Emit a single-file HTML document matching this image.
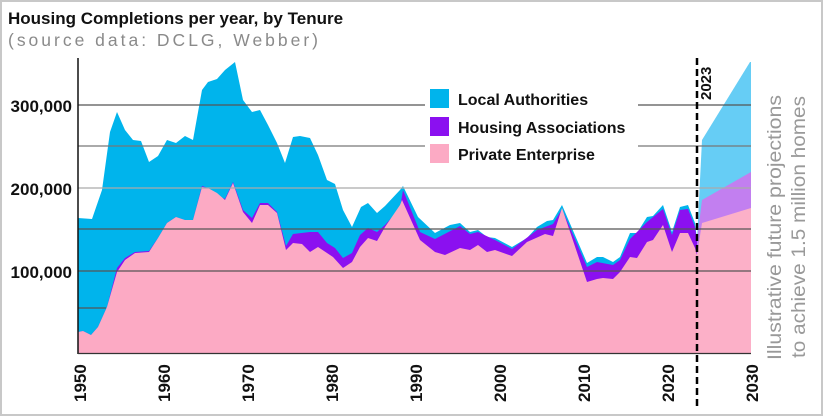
<!DOCTYPE html>
<html><head><meta charset="utf-8"><style>
html,body{margin:0;padding:0;background:#fff}
body{width:823px;height:416px;overflow:hidden;position:relative}
svg{position:absolute;left:0;top:0}
text{font-family:"Liberation Sans",sans-serif}
</style></head><body>
<svg width="823" height="416" viewBox="0 0 823 416">
<rect x="1" y="1" width="821" height="414" fill="#fff" stroke="#c8c8c8" stroke-width="2"/>
<text x="8" y="24" font-size="17" font-weight="bold" fill="#111">Housing Completions per year, by Tenure</text>
<text x="8" y="46" font-size="17.5" fill="#8a8a8a" textLength="310" lengthAdjust="spacing">(source data:  DCLG, Webber)</text>

<!-- LA (total) -->
<polygon fill="#00b4ec" points="78,353 78,218 92,219 102,190 110,132 117,112 125,130 133,140 141,141 149,162 158,156 167,140 176,143 185,136 193,140 202,90 208,82 217,79 225,70 235,62 243,100 252,112 260,110 268,125 277,143 285,163 293,137 300,136 310,138 318,155 327,180 335,184 343,210 352,227 361,207 368,203 377,213 385,206 400,190 403,186 418,217 435,233 450,225 460,223 470,232 478,230 487,237 495,238 512,247 527,238 537,227 547,221 553,220 562,205 587,263 597,257 603,257 613,262 620,257 630,233 637,233 647,217 653,216 663,205 672,232 680,207 688,205 695,223 697,240 697,353"/>
<!-- HA -->
<polygon fill="#8b10f0" points="78,353 78,332 83,331 91,335 98,327 107,307 117,268 125,258 135,252 149,251 158,238 167,223 176,217 185,220 193,220 202,186 208,188 217,195 225,199 233,182 243,210 252,218 260,203 268,203 277,212 286,246 293,234 310,232 318,232 327,243 335,248 343,258 352,253 360,235 368,228 377,232 385,225 400,208 403,190 420,232 435,239 460,226 470,234 478,232 495,240 512,249 537,230 553,224 562,209 587,267 597,262 613,265 620,260 630,239 647,222 663,209 672,235 680,210 688,209 695,227 697,240 697,353"/>
<!-- PE -->
<polygon fill="#fcaac4" points="78,353 78,332 83,331 91,335 98,327 107,307 117,272 125,260 135,253 149,252 158,238 167,223 176,217 185,220 193,220 202,187 208,188 217,193 225,200 233,183 243,212 252,223 260,205 268,205 277,213 286,250 293,243 302,244 310,252 318,247 333,257 343,268 352,262 360,247 368,238 377,241 385,227 400,205 402,200 420,240 435,252 445,255 460,248 470,250 478,245 487,252 495,250 512,256 527,242 545,234 553,236 562,208 587,282 597,279 603,278 613,279 620,272 630,257 637,258 647,242 653,240 663,225 672,252 680,233 688,233 695,248 697,255 697,353"/>
<!-- projections -->
<polygon fill="#66cdf5" points="697,353 697,240 702,140 750,62 751,62 751,353"/>
<polygon fill="#c27ff0" points="697,353 697,240 702,200 751,172 751,353"/>
<polygon fill="#fcb0c8" points="697,353 697,255 702,223 751,208 751,353"/>

<!-- gridlines -->
<g stroke="#555" stroke-width="1.2">
<line x1="78" y1="105" x2="751" y2="105"/>
<line x1="78" y1="146" x2="751" y2="146" stroke="#777"/>
<line x1="78" y1="188" x2="751" y2="188" stroke="#aaa"/>
<line x1="78" y1="229" x2="751" y2="229"/>
<line x1="78" y1="271" x2="751" y2="271"/>
<line x1="78" y1="308" x2="106" y2="308"/>
</g>
<!-- legend -->
<rect x="425" y="84" width="213" height="84" fill="#fff"/>
<rect x="430" y="89" width="19" height="19" fill="#00b4ec"/>
<rect x="430" y="117" width="19" height="19" fill="#8b10f0"/>
<rect x="430" y="144" width="19" height="19" fill="#fcaac4"/>
<g font-size="16" font-weight="bold" fill="#111">
<text x="458" y="105">Local Authorities</text>
<text x="458" y="133">Housing Associations</text>
<text x="458" y="160">Private Enterprise</text>
</g>
<!-- axes -->
<line x1="78" y1="58" x2="78" y2="354" stroke="#111" stroke-width="1.5"/>
<line x1="78" y1="353.5" x2="751" y2="353.5" stroke="#333" stroke-width="1.2"/>
<line x1="697" y1="58" x2="697" y2="406" stroke="#000" stroke-width="2.5" stroke-dasharray="7,4"/>
<text transform="translate(711,100) rotate(-90)" font-size="15" font-weight="bold" fill="#111">2023</text>

<g font-size="17" font-weight="bold" fill="#111" text-anchor="end">
<text x="72" y="112">300,000</text>
<text x="72" y="195">200,000</text>
<text x="72" y="278">100,000</text>
</g>
<g font-size="17" font-weight="bold" fill="#111">
<text transform="translate(86,402) rotate(-90)">1950</text>
<text transform="translate(170,402) rotate(-90)">1960</text>
<text transform="translate(254,402) rotate(-90)">1970</text>
<text transform="translate(338,402) rotate(-90)">1980</text>
<text transform="translate(422,402) rotate(-90)">1990</text>
<text transform="translate(506,402) rotate(-90)">2000</text>
<text transform="translate(590,402) rotate(-90)">2010</text>
<text transform="translate(674,402) rotate(-90)">2020</text>
<text transform="translate(758,402) rotate(-90)">2030</text>
</g>
<g font-size="19" fill="#999">
<text transform="translate(781,360) rotate(-90)" textLength="265" lengthAdjust="spacingAndGlyphs">Illustrative future projections</text>
<text transform="translate(805,358) rotate(-90)" textLength="262" lengthAdjust="spacingAndGlyphs">to achieve 1.5 million homes</text>
</g>
</svg>
</body></html>
